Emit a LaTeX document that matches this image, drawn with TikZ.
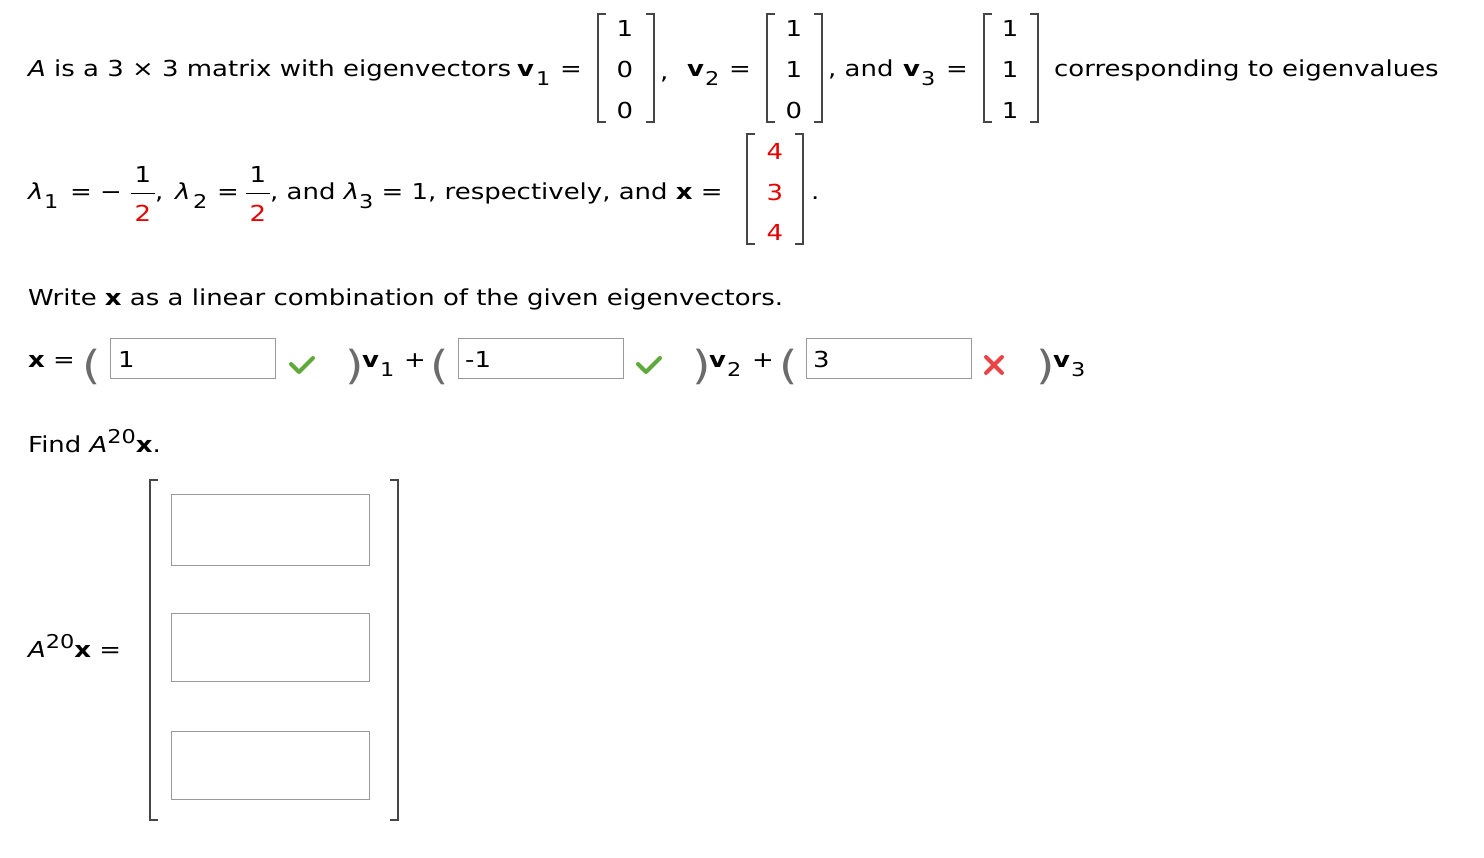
\documentclass[tikz,border=0pt]{standalone}
\usepackage{fontspec}
\setmainfont{DejaVu Sans}[FakeStretch=1.18]
\definecolor{okgreen}{RGB}{95,170,60}
\definecolor{badred}{RGB}{232,70,70}
\definecolor{ansred}{RGB}{230,0,0}
\definecolor{brk}{RGB}{70,70,70}
\newcommand\drawbrk[4]{%
 \draw[brk,line width=2pt] (#1+8,#3)--(#1,#3)--(#1,#4)--(#1+8,#4);
 \draw[brk,line width=2pt] (#2-8,#3)--(#2,#3)--(#2,#4)--(#2-8,#4);}
\newcommand\chk[2]{\draw[okgreen,line width=4pt,line cap=round,line join=round] (#1-11,#2-2)--(#1-3,#2+6)--(#1+11,#2-8);}
\newcommand\crs[2]{\draw[badred,line width=4pt,line cap=round] (#1-8,#2-8)--(#1+8,#2+8) (#1-8,#2+8)--(#1+8,#2-8);}
\newcommand\sbs[1]{\raisebox{-9pt}{\fontsize{19}{22}\selectfont #1}}
\newcommand\sps[1]{\raisebox{9pt}{\fontsize{19}{22}\selectfont #1}}
\begin{document}
\begin{tikzpicture}[x=1pt,y=-1pt,
 t/.style={anchor=base west,inner sep=0pt,font=\fontsize{22}{26}\selectfont},
 s/.style={anchor=base west,inner sep=0pt,font=\fontsize{19}{22}\selectfont},
 e/.style={anchor=base,inner sep=0pt,font=\fontsize{22}{26}\selectfont},
 p/.style={anchor=base,inner sep=0pt,font=\fontsize{40}{44}\selectfont\color{brk!80}},
 ibox/.style={draw=gray!80,line width=1pt}]
\useasboundingbox (0,0) rectangle (1484,858);
% line 1
\node[t] (l1) at (28,77) {\textit{A} is a 3 × 3 matrix with eigenvectors};
\node[t] (v1) at (517,77) {\textbf{v}}; \node[s] (v1s) at (536,86) {1};
\node[t] (eq1) at (560,77) {=};
\drawbrk{598}{654}{14}{122}
\node[e] (a11) at (625,37) {1};\node[e] (a12) at (625,78) {0};\node[e] (a13) at (625,119) {0};
\node[t] (c1) at (660,80) {,};
\node[t] (v2) at (687,77) {\textbf{v}}; \node[s] (v2s) at (705,86) {2};
\node[t] (eq2) at (729,77) {=};
\drawbrk{767}{822}{14}{122}
\node[e] (a21) at (794,37) {1};\node[e] (a22) at (794,78) {1};\node[e] (a23) at (794,119) {0};
\node[t] (and1) at (828,77) {, and};
\node[t] (v3) at (903,77) {\textbf{v}}; \node[s] (v3s) at (921,86) {3};
\node[t] (eq3) at (946,77) {=};
\drawbrk{984}{1038}{14}{122}
\node[e] (a31) at (1010,37) {1};\node[e] (a32) at (1010,78) {1};\node[e] (a33) at (1010,119) {1};
\node[t] (cor) at (1054,77) {corresponding to eigenvalues};
% line 2
\node[t] (lam1) at (28,200) {\textit{λ}}; \node[s] (lam1s) at (44,209) {1};
\node[t] (eq4) at (70,200) {=}; \node[t] (mn) at (100,200) {−};
\node[e] (n1) at (143,183) {1}; \draw (131,193)--(155,193); \node[e,text=ansred] (d1) at (143,222) {2};
\node[t] (lam2c) at (155,200) {,}; \node[t] (lam2) at (175,200) {\textit{λ}}; \node[s] (lam2s) at (193,209) {2};
\node[t] (eq5) at (217,200) {=};
\node[e] (n2) at (258,183) {1}; \draw (246,193)--(270,193); \node[e,text=ansred] (d2) at (258,222) {2};
\node[t] (and2) at (270,200) {, and \textit{λ}\sbs{3} = 1, respectively, and \textbf{x} =};
\drawbrk{747}{803}{134}{244}
\node[e,text=ansred] (x1) at (775,160) {4};\node[e,text=ansred] (x2) at (775,201) {3};\node[e,text=ansred] (x3) at (775,241) {4};
\node[t] (dot) at (811,200) {.};
% line 3
\node[t] (wr) at (28,306) {Write \textbf{x} as a linear combination of the given eigenvectors.};
% line 4
\node[t] (xeq) at (28,368) {\textbf{x} =};
\node[p] (o1) at (92,380) {(};
\draw[ibox] (110,339) rectangle (275,379); \node[t] (b1) at (118,368) {1};
\chk{302}{366}
\node[p] (c1p) at (355,380) {)};
\node[t] (w1) at (362,368) {\textbf{v}}; \node[s] (w1s) at (380,377) {1};
\node[t] (pl1) at (404,368) {+};
\node[p] (o2) at (440,380) {(};
\draw[ibox] (458,339) rectangle (623,379); \node[t] (b2) at (465,368) {-1};
\chk{649}{366}
\node[p] (c2p) at (702,380) {)};
\node[t] (w2) at (709,368) {\textbf{v}}; \node[s] (w2s) at (727,377) {2};
\node[t] (pl2) at (752,368) {+};
\node[p] (o3) at (789,380) {(};
\draw[ibox] (806,339) rectangle (971,379); \node[t] (b3) at (813,368) {3};
\crs{994}{365}
\node[p] (c3p) at (1046,380) {)};
\node[t] (w3) at (1053,368) {\textbf{v}}; \node[s] (w3s) at (1071,377) {3};
% find
\node[t] (find) at (28,453) {Find \textit{A}\sps{20}\textbf{x}.};
\node[t] (aeq) at (28,657) {\textit{A}\sps{20}\textbf{x} =};
\drawbrk{150}{398}{480}{820}
\draw[ibox] (171,495) rectangle (369,565);
\draw[ibox] (171,613) rectangle (369,681);
\draw[ibox] (171,731) rectangle (369,799);
\end{tikzpicture}
\end{document}
